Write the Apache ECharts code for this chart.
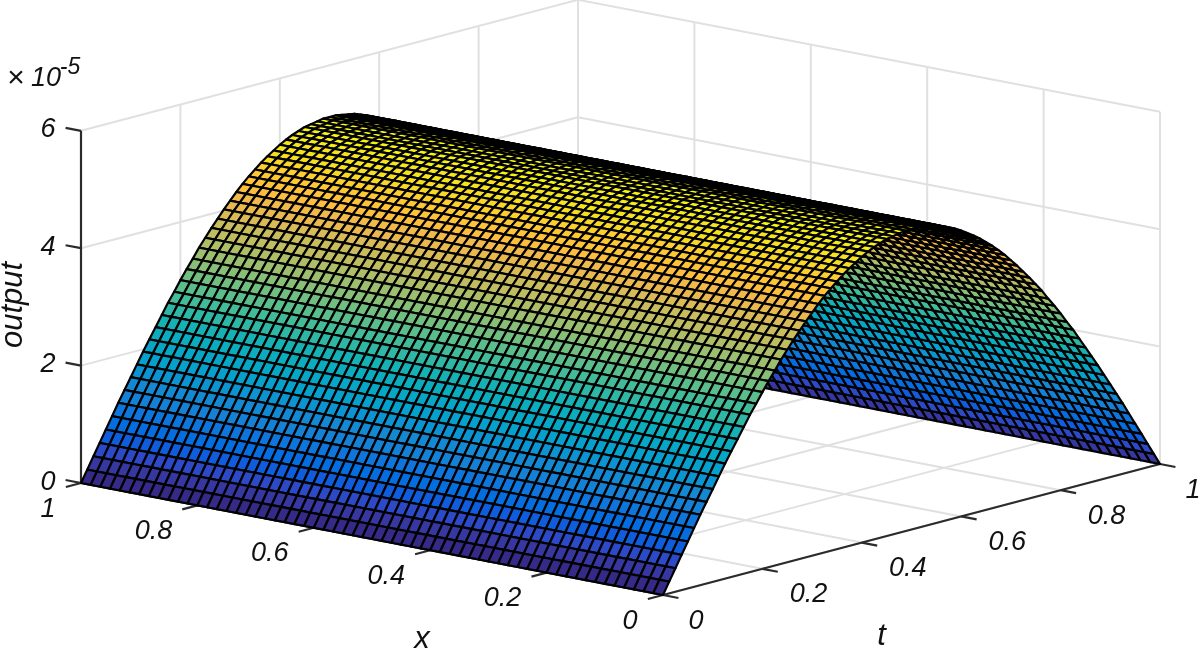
<!DOCTYPE html>
<html>
<head>
<meta charset="utf-8">
<style>html,body{margin:0;padding:0;background:#fff}#chart{width:1200px;height:650px}</style>
<script src="https://cdn.jsdelivr.net/npm/echarts@6/dist/echarts.min.js"></script>
</head>
<body>
<div id="chart"></div>
<script>
const xTicks = [0, 0.2, 0.4, 0.6, 0.8, 1];
const tTicks = [0, 0.2, 0.4, 0.6, 0.8, 1];
const zTicks = [0, 2, 4, 6];
const xTickLabels = ['0', '0.2', '0.4', '0.6', '0.8', '1'];
const tTickLabels = ['0', '0.2', '0.4', '0.6', '0.8', '1'];
const zTickLabels = ['0', '2', '4', '6'];
const xMesh = [0,0.0167,0.0333,0.05,0.0667,0.0833,0.1,0.1167,0.1333,0.15,0.1667,0.1833,0.2,0.2167,0.2333,0.25,0.2667,0.2833,0.3,0.3167,0.3333,0.35,0.3667,0.3833,0.4,0.4167,0.4333,0.45,0.4667,0.4833,0.5,0.5167,0.5333,0.55,0.5667,0.5833,0.6,0.6167,0.6333,0.65,0.6667,0.6833,0.7,0.7167,0.7333,0.75,0.7667,0.7833,0.8,0.8167,0.8333,0.85,0.8667,0.8833,0.9,0.9167,0.9333,0.95,0.9667,0.9833,1];
const tMesh = [0,0.0125,0.025,0.0375,0.05,0.0625,0.075,0.0875,0.1,0.1125,0.125,0.1375,0.15,0.1625,0.175,0.1875,0.2,0.2125,0.225,0.2375,0.25,0.2625,0.275,0.2875,0.3,0.3125,0.325,0.3375,0.35,0.3625,0.375,0.3875,0.4,0.4125,0.425,0.4375,0.45,0.4625,0.475,0.4875,0.5,0.5125,0.525,0.5375,0.55,0.5625,0.575,0.5875,0.6,0.6125,0.625,0.6375,0.65,0.6625,0.675,0.6875,0.7,0.7125,0.725,0.7375,0.75,0.7625,0.775,0.7875,0.8,0.8125,0.825,0.8375,0.85,0.8625,0.875,0.8875,0.9,0.9125,0.925,0.9375,0.95,0.9625,0.975,0.9875,1];
// output (in units of 1e-5) read along t; the surface does not change along x
const outputByT = [0,0.20,0.40,0.60,0.80,1.00,1.20,1.39,1.58,1.77,1.96,2.14,2.32,2.50,2.68,2.84,3.01,3.17,3.32,3.48,3.62,3.76,3.89,4.02,4.14,4.26,4.37,4.47,4.56,4.65,4.73,4.80,4.87,4.93,4.98,5.02,5.06,5.08,5.10,5.12,5.12,5.12,5.10,5.08,5.06,5.02,4.98,4.93,4.87,4.80,4.73,4.65,4.56,4.47,4.37,4.26,4.14,4.02,3.89,3.76,3.62,3.48,3.32,3.17,3.01,2.84,2.68,2.50,2.32,2.14,1.96,1.77,1.58,1.39,1.20,1.00,0.80,0.60,0.40,0.20,0];
const parula = [[.2081,.1663,.5292],[.2116,.1898,.5777],[.2123,.2138,.627],[.2081,.2386,.6771],[.1959,.2645,.7279],[.1707,.2919,.7792],[.1253,.3242,.8303],[.0591,.3598,.8683],[.0117,.3875,.882],[.006,.4086,.8828],[.0165,.4266,.8786],[.0329,.443,.872],[.0498,.4586,.8641],[.0629,.4737,.8554],[.0723,.4887,.8467],[.0779,.504,.8384],[.0793,.52,.8312],[.0749,.5375,.8263],[.0641,.557,.824],[.0488,.5772,.8228],[.0343,.5966,.8199],[.0265,.6137,.8135],[.0239,.6287,.8038],[.0231,.6418,.7913],[.0228,.6535,.7768],[.0267,.6642,.7607],[.0384,.6743,.7436],[.059,.6838,.7254],[.0843,.6928,.7062],[.1133,.7015,.6859],[.1453,.7098,.6646],[.1801,.7177,.6424],[.2178,.725,.6193],[.2586,.7317,.5954],[.3022,.7376,.5712],[.3482,.7424,.5473],[.3953,.7459,.5244],[.442,.7481,.5033],[.4871,.7491,.484],[.53,.7491,.4661],[.5709,.7485,.4494],[.6099,.7473,.4337],[.6473,.7456,.4188],[.6834,.7435,.4044],[.7184,.7411,.3905],[.7525,.7384,.3768],[.7858,.7356,.3633],[.8185,.7327,.3498],[.8507,.7299,.336],[.8824,.7274,.3217],[.9139,.7258,.3063],[.945,.7261,.2886],[.9739,.7314,.2666],[.9938,.7455,.2403],[.999,.7653,.2164],[.9955,.7861,.1967],[.988,.8066,.1794],[.9789,.8271,.1633],[.9697,.8481,.1475],[.9626,.8705,.1309],[.9589,.8949,.1132],[.9598,.9218,.0948],[.9661,.9514,.0755],[.9763,.9831,.0538]];

// Orthographic 3D view mapped onto the page-sized value axes
function project(x, t, z) {
  return [663 - 582 * x + 497 * t, 595 - 112 * x - 131 * t - 58.7 * z];
}
const zMin = Math.min.apply(null, outputByT), zMax = Math.max.apply(null, outputByT);
function faceColor(z) {
  const i = Math.min(parula.length - 1, Math.floor((z - zMin) / (zMax - zMin) * parula.length));
  const c = parula[i];
  return 'rgb(' + Math.round(c[0] * 255) + ',' + Math.round(c[1] * 255) + ',' + Math.round(c[2] * 255) + ')';
}

// segments: [x0,t0,z0,x1,t1,z1]
const gridSegments = [];
const zTop = zTicks[zTicks.length - 1];
tTicks.forEach(t => {
  gridSegments.push([0, t, 0, 1, t, 0]);
  gridSegments.push([1, t, 0, 1, t, zTop]);
});
xTicks.forEach(x => {
  gridSegments.push([x, 0, 0, x, 1, 0]);
  gridSegments.push([x, 1, 0, x, 1, zTop]);
});
zTicks.forEach(z => {
  gridSegments.push([1, 0, z, 1, 1, z]);
  gridSegments.push([0, 1, z, 1, 1, z]);
});
const tickLen = 0.0265;
const axisSegments = [[0, 0, 0, 1, 0, 0], [0, 0, 0, 0, 1, 0], [1, 0, 0, 1, 0, zTop]];
xTicks.forEach(x => axisSegments.push([x, 0, 0, x, -tickLen * 1.15, 0]));
tTicks.forEach(t => axisSegments.push([0, t, 0, -tickLen, t, 0]));
zTicks.forEach(z => axisSegments.push([1, 0, z, 1 + tickLen, 0, z]));

// surface cells, far to near
const cells = [];
for (let i = xMesh.length - 2; i >= 0; i--) {
  for (let j = tMesh.length - 2; j >= 0; j--) cells.push([i, j]);
}

// texts: [x, t, z, dx, dy, text, fontSize, rotation, fontStyle]
const labels = [];
xTicks.forEach((x, i) => {
  const s = xTickLabels[i];
  labels.push([x, 0, 0, s.length > 1 ? -44 : -33, 26, s, 27, 0, 'italic']);
});
tTicks.forEach((t, i) => {
  const s = tTickLabels[i];
  labels.push([0, t, 0, s.length > 1 ? 46 : 33, 26, s, 27, 0, 'italic']);
});
zTicks.forEach((z, i) => labels.push([1, 0, z, -33, -1, zTickLabels[i], 27, 0, 'italic']));
labels.push([0.5, 0, 0, 50, 100, 'x', 31, 0, 'italic']);
labels.push([0, 0.5, 0, -30, 107, 't', 31, 0, 'italic']);
labels.push([1, 0, 3, -68, -2, 'output', 31, Math.PI / 2, 'italic']);
labels.push([1, 0, 6, -65, -52, '\u00d7', 30, 0, 'normal']);
labels.push([1, 0, 6, -35, -52, '10', 27, 0, 'italic']);
labels.push([1, 0, 6, -11, -63, '-5', 23, 0, 'italic']);

function segmentRenderer(color, width) {
  return function (params, api) {
    const a = api.coord(project(api.value(0), api.value(1), api.value(2)));
    const b = api.coord(project(api.value(3), api.value(4), api.value(5)));
    return {
      type: 'line',
      shape: { x1: a[0], y1: a[1], x2: b[0], y2: b[1] },
      style: { stroke: color, lineWidth: width, fill: null }
    };
  };
}

const chart = echarts.init(document.getElementById('chart'), null, { renderer: 'canvas' });
chart.setOption({
  animation: false,
  backgroundColor: '#ffffff',
  grid: { left: 0, right: 0, top: 0, bottom: 0 },
  xAxis: { type: 'value', min: 0, max: 1200, show: false },
  yAxis: { type: 'value', min: 0, max: 650, inverse: true, show: false },
  series: [
    { name: 'grid', type: 'custom', clip: false, silent: true, progressive: 0, z: 1,
      encode: { x: 0, y: 1 }, data: gridSegments, renderItem: segmentRenderer('#e0e0e0', 2) },
    { name: 'axes', type: 'custom', clip: false, silent: true, progressive: 0, z: 2,
      encode: { x: 0, y: 1 }, data: axisSegments, renderItem: segmentRenderer('#2b2b2b', 2.2) },
    { name: 'output', type: 'custom', clip: false, silent: true, progressive: 0, z: 3,
      encode: { x: 0, y: 1 }, data: cells,
      renderItem: function (params, api) {
        const i = api.value(0), j = api.value(1);
        const pts = [[i, j], [i + 1, j], [i + 1, j + 1], [i, j + 1]].map(p =>
          api.coord(project(xMesh[p[0]], tMesh[p[1]], outputByT[p[1]])));
        return {
          type: 'polygon',
          shape: { points: pts },
          style: { fill: faceColor(outputByT[j]), stroke: '#000000', lineWidth: 2.2, lineJoin: 'round' }
        };
      } },
    { name: 'labels', type: 'custom', clip: false, silent: true, progressive: 0, z: 4,
      encode: { x: 0, y: 1 }, data: labels.map(l => ({ value: l })),
      renderItem: function (params, api) {
        const l = labels[params.dataIndex];
        const c = api.coord(project(l[0], l[1], l[2]));
        return {
          type: 'text',
          x: c[0] + l[3], y: c[1] + l[4], rotation: l[7],
          style: {
            text: l[5], fill: '#111111', align: 'center', verticalAlign: 'middle',
            font: l[8] + ' ' + l[6] + 'px "Liberation Sans", Arial, sans-serif'
          }
        };
      } }
  ]
});
</script>
</body>
</html>
